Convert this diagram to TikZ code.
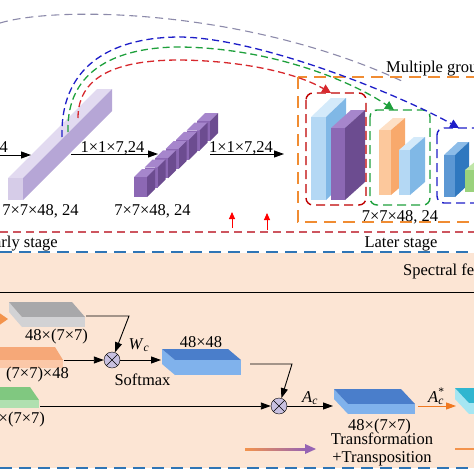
\documentclass[tikz,border=0pt]{standalone}
\usepackage{fontspec}
\setmainfont{Liberation Serif}
\usetikzlibrary{arrows.meta}
\usetikzlibrary{positioning}
\usetikzlibrary{calc}

\definecolor{peach}{RGB}{252,229,212}
\definecolor{stageblue}{RGB}{46,117,182}
\definecolor{stagered}{RGB}{205,85,95}
\definecolor{skipgray}{RGB}{140,138,170}
\definecolor{skipred}{RGB}{215,40,45}
\definecolor{skipgreen}{RGB}{30,160,60}
\definecolor{skipblue}{RGB}{30,30,200}
\definecolor{grporange}{RGB}{240,140,50}
\definecolor{otfill}{RGB}{200,192,224}
\definecolor{lavF}{RGB}{214,204,232}
\definecolor{lavS}{RGB}{182,166,214}
\definecolor{lavT}{RGB}{226,218,240}
\definecolor{cubeF}{RGB}{140,104,180}
\definecolor{cubeS}{RGB}{108,76,144}
\definecolor{cubeT}{RGB}{166,134,204}
\definecolor{ltbF}{RGB}{180,216,244}
\definecolor{ltbS}{RGB}{128,184,230}
\definecolor{ltbT}{RGB}{212,234,250}
\definecolor{bluF}{RGB}{92,152,212}
\definecolor{bluS}{RGB}{47,120,191}
\definecolor{bluT}{RGB}{140,188,232}
\definecolor{grnF}{RGB}{154,210,124}
\definecolor{grnS}{RGB}{116,188,86}
\definecolor{grnT}{RGB}{192,230,168}
\definecolor{orgF}{RGB}{252,200,156}
\definecolor{orgS}{RGB}{248,169,108}
\definecolor{orgT}{RGB}{253,224,198}
\definecolor{slabblueT}{RGB}{74,126,203}
\definecolor{slabblueF}{RGB}{128,178,236}
\definecolor{slabcyanT}{RGB}{48,182,208}
\definecolor{slabcyanF}{RGB}{165,230,242}
\definecolor{slabgrayT}{RGB}{168,168,170}
\definecolor{slabgrayF}{RGB}{210,210,212}
\definecolor{slaborgT}{RGB}{246,168,120}
\definecolor{slaborgF}{RGB}{251,200,168}
\definecolor{slabgrnT}{RGB}{128,200,128}
\definecolor{slabgrnF}{RGB}{176,224,176}
\definecolor{arrorange}{RGB}{240,120,32}
\definecolor{legpurple}{RGB}{150,100,180}

\tikzset{
  lbl/.style={font=\fontsize{16.5}{18}\selectfont, inner sep=0pt, anchor=base},
  arr/.style={-{Triangle[length=10pt,width=7pt]}, line width=0.9pt},
  uparr/.style={-{Triangle[length=7pt,width=6pt]}, line width=0.9pt, red},
  skip/.style={dash pattern=on 7pt off 4pt, line width=1.3pt, -{Triangle[length=9pt,width=9pt]}},
  grpbox/.style={dash pattern=on 9pt off 5pt, line width=1.4pt, rounded corners=7pt},
  stage/.style={dash pattern=on 12pt off 7pt, line width=1.5pt},
  otimes/.style={circle, draw, fill=otfill, minimum size=16pt, inner sep=0pt,
    path picture={\draw (path picture bounding box.north west) -- (path picture bounding box.south east)
                        (path picture bounding box.north east) -- (path picture bounding box.south west);}},
}

% front face top-left x, y, width, height, depth dx, dy, front, side, top
\newcommand{\drawcuboid}[9]{%
  \fill[#9] (#1,#2) -- (#1+#3,#2) -- (#1+#3+#5,#2+#6) -- (#1+#5,#2+#6) -- cycle;
  \fill[#8] (#1+#3,#2) -- (#1+#3+#5,#2+#6) -- (#1+#3+#5,#2+#6+#4) -- (#1+#3,#2+#4) -- cycle;
  \fill[#7] (#1,#2) rectangle (#1+#3,#2+#4);
}
% back edge left x, y, width, shift, depth, thickness, top, front
\newcommand{\drawslab}[8]{%
  \fill[#8] (#1,#2) -- (#1+#4,#2+#5) -- (#1+#4,#2+#5+#6) -- (#1,#2+#6) -- cycle;
  \fill[#7] (#1,#2) -- (#1+#3,#2) -- (#1+#3+#4,#2+#5) -- (#1+#4,#2+#5) -- cycle;
  \fill[#8] (#1+#4,#2+#5) rectangle (#1+#3+#4,#2+#5+#6);
}

\begin{document}
\begin{tikzpicture}[x=1pt,y=-1pt]
\useasboundingbox (0,0) rectangle (474,474);
\clip (0,0) rectangle (474,474);

% spectral panel background
\fill[peach] (0,253) rectangle (474,468);

% early stage
\draw[skipgray, dash pattern=on 8pt off 5pt, line width=1.1pt] (0,23) .. controls (60,5) and (250,10) .. (404,82);

\drawcuboid{8}{178}{15}{22}{89}{-89}{lavF}{lavS}{lavT}
\foreach \i in {6,...,0}
  \drawcuboid{134+10.5*\i}{177-9.3*\i}{13}{20}{8}{-8}{cubeF}{cubeS}{cubeT};

\coordinate (in0) at (-5,155);
\coordinate (barin) at (31,155);
\coordinate (barout) at (71,154);
\coordinate (cubein) at (158,154);
\coordinate (cubeout) at (210,154);
\coordinate (grpin) at (284,154);

\draw[arr] (in0) -- (barin);
\draw[arr] (barout) -- (cubein);
\draw[arr] (cubeout) -- (grpin);

\node[lbl, anchor=base east] (l_in) at (8,152) {1×1×7,24};
\node[lbl] (l_bar) at (112.5,152) {1×1×7,24};
\node[lbl] (l_cube) at (241,152) {1×1×7,24};
\node[lbl] (s_bar) at (40.5,215) {7×7×48, 24};
\node[lbl] (s_cube) at (152.5,215) {7×7×48, 24};

% later stage
\drawcuboid{311}{117}{15}{83}{20}{-19}{ltbF}{ltbS}{ltbT}
\drawcuboid{331}{128}{14}{72}{20}{-18}{cubeF}{cubeS}{cubeT}
\drawcuboid{379}{130}{12}{65}{14}{-12}{orgF}{orgS}{orgT}
\drawcuboid{399}{150}{11}{45}{15}{-13}{ltbF}{ltbS}{ltbT}
\drawcuboid{444}{155}{11}{42}{14}{-13}{bluF}{bluS}{bluT}
\drawcuboid{465}{170}{11}{22}{12}{-10}{grnF}{grnS}{grnT}

\draw[grpbox, grporange, rounded corners=0pt, dash pattern=on 12pt off 7pt] (298,77) rectangle (490,222);
\draw[grpbox, red!75!black] (306,93) rectangle (366,205);
\draw[grpbox, skipgreen] (370,110) rectangle (430,205);
\draw[grpbox, skipblue] (437,128) rectangle (490,203);

\coordinate (fromB) at (62,137);
\coordinate (fromG) at (68,132);
\coordinate (fromR) at (78,118);
\coordinate (toB) at (459,128);
\coordinate (toG) at (394,110);
\coordinate (toR) at (331,93);
\draw[skip, skipblue] (fromB) .. controls (60,60) and (120,37) .. (180,37) .. controls (260,38) and (400,95) .. (toB);
\draw[skip, skipgreen] (fromG) .. controls (66,68) and (120,47) .. (180,47) .. controls (270,48) and (350,80) .. (toG);
\draw[skip, skipred] (fromR) .. controls (78,72) and (125,60) .. (180,60) .. controls (250,61) and (300,75) .. (toR);

\node[lbl, anchor=base west] (l_grp) at (386,72) {Multiple groups};
\node[lbl] (s_grp) at (400,221) {7×7×48, 24};

% stage separators
\draw[stage, stagered, dash pattern=on 8pt off 5pt, line width=1.2pt] (0,232) -- (474,232);
\coordinate (up1a) at (232,228);
\coordinate (up1b) at (232,212);
\coordinate (up2a) at (267,230);
\coordinate (up2b) at (267,213);
\draw[uparr] (up1a) -- (up1b);
\draw[uparr] (up2a) -- (up2b);
\node[lbl, anchor=base east] (l_early) at (58,247) {Early stage};
\node[lbl] (l_later) at (401,247) {Later stage};
\draw[stage, stageblue] (0,252) -- (474,252);
\draw[stage, stageblue] (0,468) -- (474,468);

% spectral feature panel
\node[lbl, anchor=base west] (l_spec) at (403,275) {Spectral features};
\draw[line width=1pt] (0,292) -- (474,292);

\fill[arrorange!80!white] (-2,312) -- (8,319) -- (-2,326) -- cycle;
\drawslab{9}{302}{63}{13}{15}{10}{slabgrayT}{slabgrayF}
\drawslab{-12}{347}{67}{8}{13}{8}{slaborgT}{slaborgF}
\drawslab{-20}{387}{50}{9}{13}{8}{slabgrnT}{slabgrnF}
\drawslab{162}{349}{66}{13}{11}{15}{slabblueT}{slabblueF}
\drawslab{334}{389}{67}{14}{15}{10}{slabblueT}{slabblueF}
\drawslab{455}{388}{60}{14}{15}{11}{slabcyanT}{slabcyanF}

\node[otimes] (ot1) at (112,360) {};
\node[otimes] (ot2) at (279,406) {};

\coordinate (grayR) at (86,316);
\coordinate (grayK) at (129,316);
\coordinate (orangeR) at (64,360);
\coordinate (blueIn) at (161,360);
\coordinate (blueR) at (250,364);
\coordinate (blueK) at (292,364);
\coordinate (greenR) at (40,406);
\coordinate (slabIn) at (333,406);
\coordinate (slabR) at (418,406);
\coordinate (cyanIn) at (456,406);

\draw[arr] (grayR) -- (grayK) -- (ot1);
\draw[arr] (orangeR) -- (ot1);
\draw[arr] (ot1) -- (blueIn);
\draw[arr] (blueR) -- (blueK) -- (ot2);
\draw[arr] (greenR) -- (ot2);
\draw[arr] (ot2) -- (slabIn);
\draw[arr, arrorange] (slabR) -- (cyanIn);

\node[lbl] (s_gray) at (56.5,340) {48×(7×7)};
\node[lbl] (s_orange) at (37.5,378) {(7×7)×48};
\node[lbl, anchor=base east] (s_green) at (45,423) {48×(7×7)};
\node[lbl] (s_blue) at (201,347) {48×48};
\node[lbl] (l_soft) at (142.5,385) {Softmax};
\node[lbl] (l_wc) at (139,349) {\textit{W}\textsubscript{\textit{c}}};
\node[lbl] (l_ac) at (310,402) {\textit{A}\textsubscript{\textit{c}}};
\node[lbl] (l_acs) at (436,402) {\textit{A}\rlap{\textsuperscript{*}}\textsubscript{\textit{c}}};
\node[lbl] (s_slab) at (379.5,430) {48×(7×7)};
\node[lbl] (l_trans) at (382,444) {Transformation};
\node[lbl] (l_tpos) at (382,462) {+Transposition};

% legend
\coordinate (leg1a) at (245,449);
\coordinate (leg1b) at (316,449);
\coordinate (leg2a) at (455,449);
\coordinate (leg2b) at (480,449);
\shade[left color=arrorange!80!white, right color=legpurple] (leg1a) ++(0,-1) rectangle ($(leg1b)+(-10,1)$);
\fill[legpurple] ($(leg1b)+(-11,-5)$) -- (leg1b) -- ($(leg1b)+(-11,5)$) -- cycle;
\draw[arrorange!80!white, line width=1.6pt] (leg2a) -- (leg2b);

\end{tikzpicture}
\end{document}
